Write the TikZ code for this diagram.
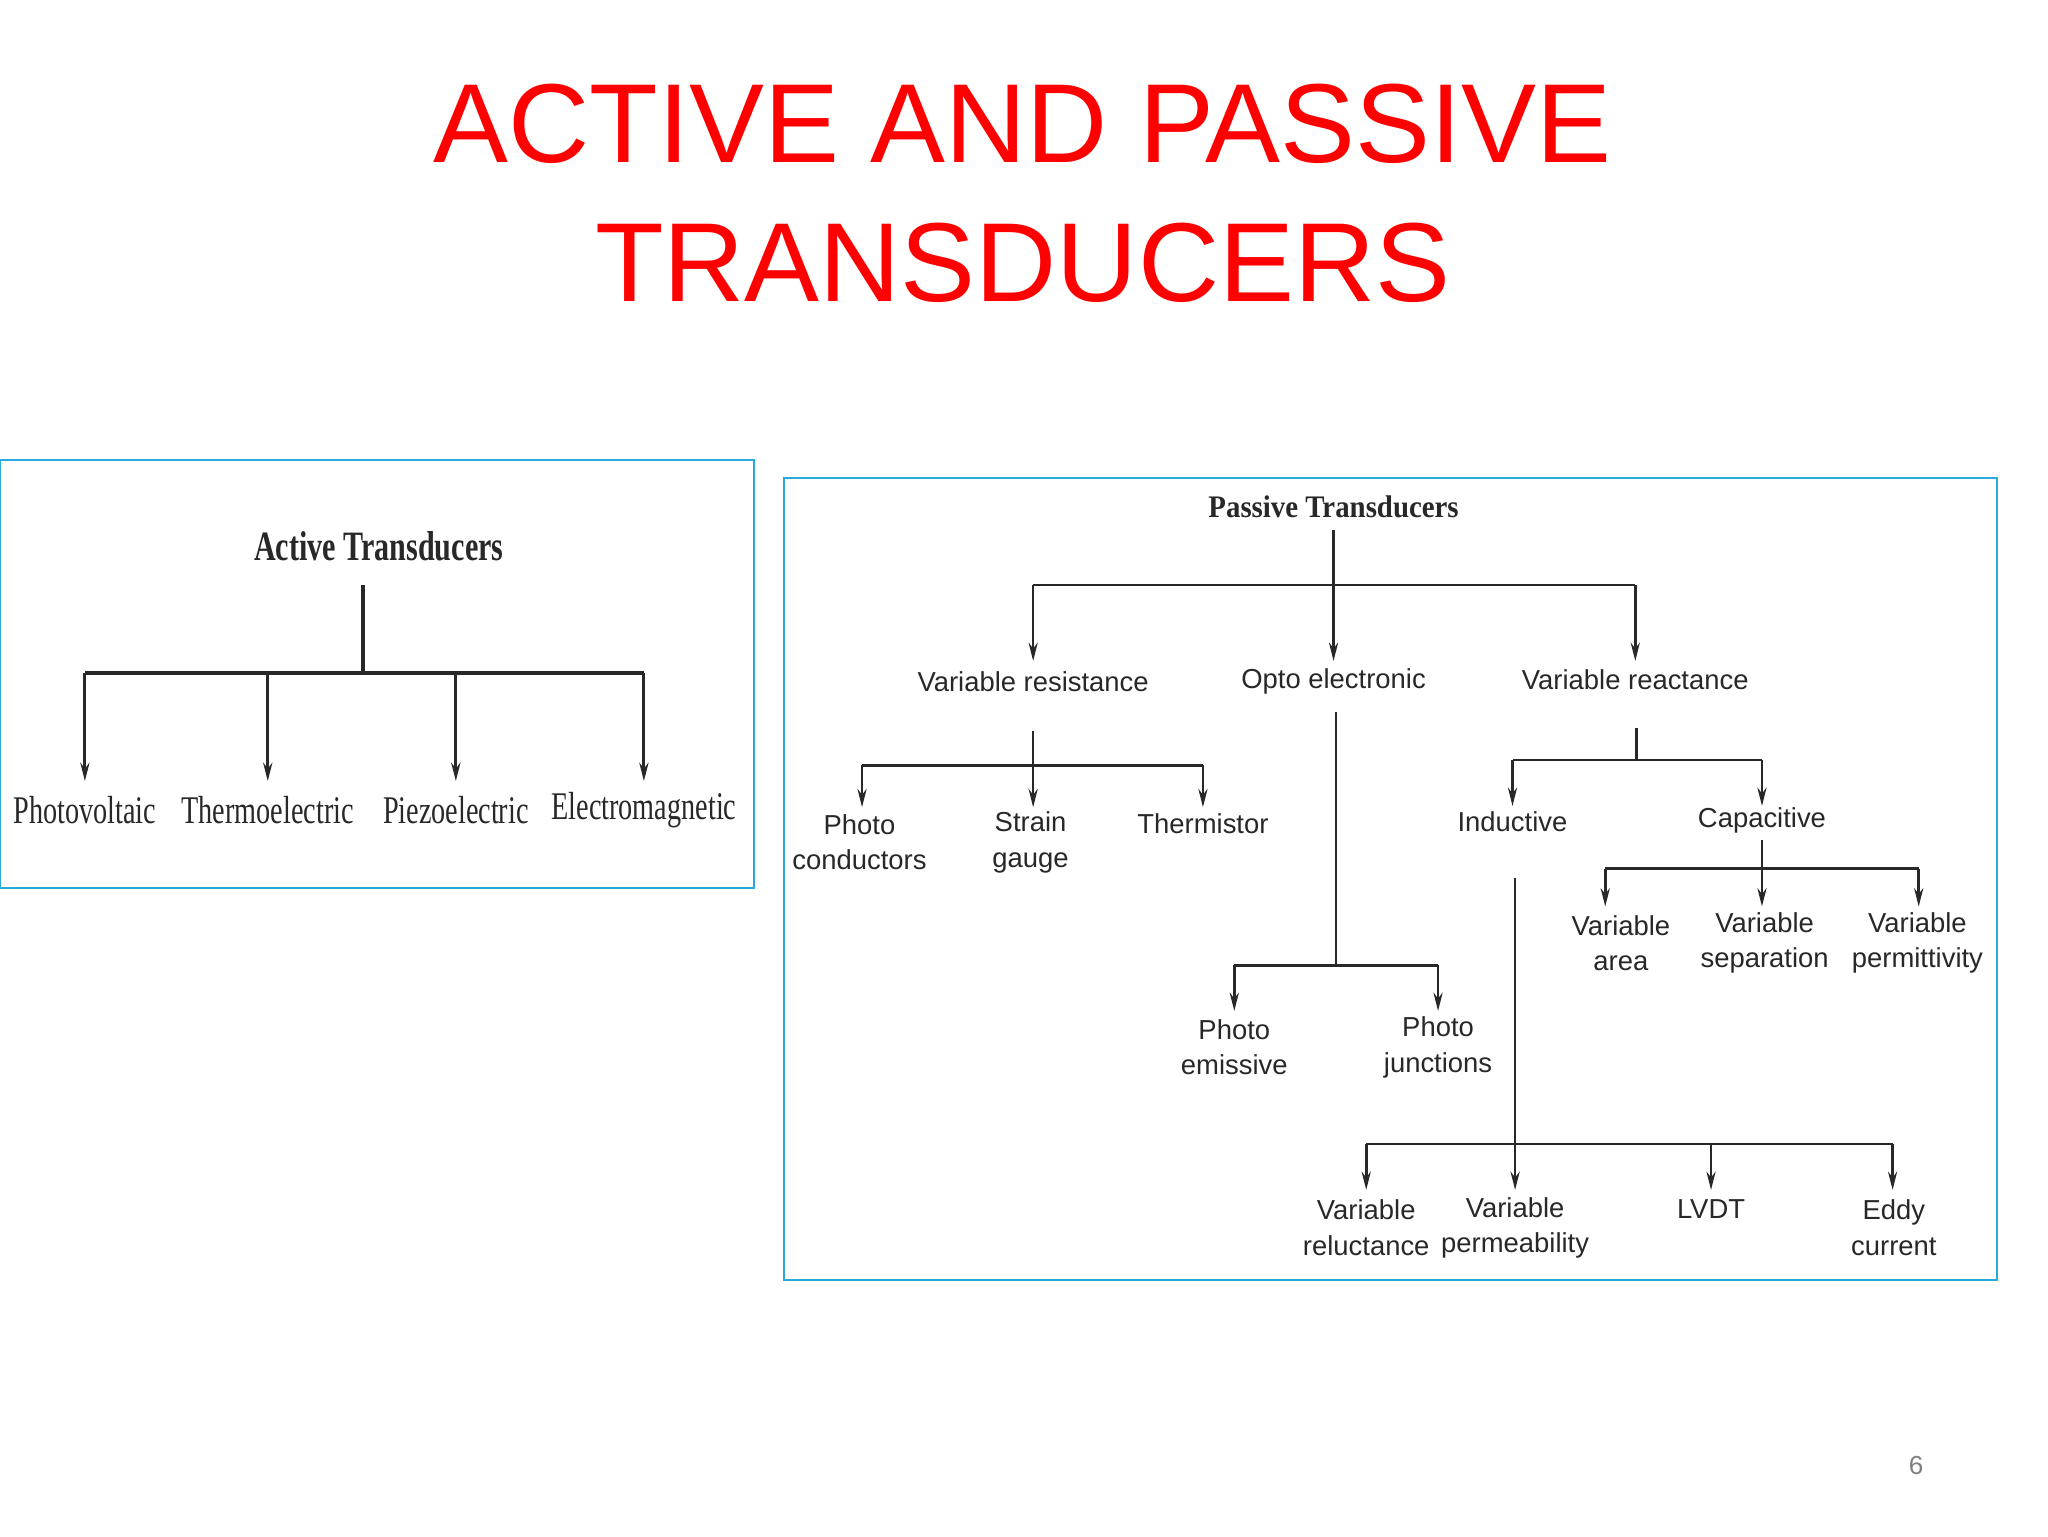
\documentclass[tikz,border=0pt]{standalone}
\usepackage{fontspec}
\setmainfont{Liberation Sans}
\newfontfamily\serifb{Liberation Serif}
\usetikzlibrary{arrows.meta}
\definecolor{frame}{RGB}{40,170,220}
\definecolor{ink}{RGB}{40,40,40}
\begin{document}
\begin{tikzpicture}[x=1pt,y=-1pt,
  lbl/.style={font=\fontsize{21}{27}\selectfont,text=ink,align=center,inner sep=0pt},
  albl/.style={font=\serifb\fontsize{30}{34}\selectfont,text=ink,xscale=0.72,inner sep=0pt},
  ln/.style={draw=ink,line width=2pt},
  arr/.style={ln,-{Stealth[length=14pt,width=7pt]}},
  box/.style={draw=frame,line width=1.5pt}]
\useasboundingbox (0,0) rectangle (1568,1176);
\fill[white] (0,0) rectangle (1568,1176);
\node[text=red,font=\fontsize{86}{106}\selectfont,align=center] (title) at (783,148) {ACTIVE AND PASSIVE\\TRANSDUCERS};
\node[text=gray,font=\fontsize{20}{24}\selectfont] (pg) at (1467,1122) {6};
% Active
\draw[box] (0,352) rectangle (577,680);
\node[albl,font=\serifb\bfseries\fontsize{32}{36}\selectfont] (at) at (290,418) {Active Transducers};
\coordinate (a0) at (278,448); \coordinate (a1) at (278,515);
\coordinate (ab1) at (65,515); \coordinate (ab4) at (493,515);
\draw[ln,line width=2.6pt] (a0) -- (a1); \draw[ln,line width=3pt] (ab1) -- (ab4);
\foreach \x/\t/\n in {65/Photovoltaic/p1,205/Thermoelectric/p2,349/Piezoelectric/p3,493/Electromagnetic/p4}{
  \node[albl] (\n) at (\x,620) {\t};
  \coordinate (\n t) at (\x,515);
  \draw[arr,line width=2.4pt] (\n t) -- (\x,598);
}
% Passive
\draw[box] (600,366) rectangle (1529,980);
\node[font=\serifb\bfseries\fontsize{24}{28}\selectfont,text=ink,xscale=0.92] (pt) at (1021,388) {Passive Transducers};
\node[lbl] (vr) at (791,522) {Variable resistance};
\node[lbl] (oe) at (1021,522) {Opto electronic};
\node[lbl] (vx) at (1252,520) {Variable reactance};
\draw[arr] (1021,406) -- (1021,506);
\draw[ln] (791,448) -- (1252,448);
\draw[arr] (791,448) -- (791,506);
\draw[arr] (1252,448) -- (1252,506);
% var resistance
\node[lbl] (pc) at (658,645) {Photo\\conductors};
\node[lbl] (sg) at (789,645) {Strain\\gauge};
\node[lbl] (th) at (921,631) {Thermistor};
\draw[arr] (791,560) -- (791,618);
\draw[ln] (660,586) -- (921,586);
\draw[arr] (660,586) -- (660,618);
\draw[arr] (921,586) -- (921,618);
% opto
\node[lbl] (pe) at (945,802) {Photo\\emissive};
\node[lbl] (pj) at (1101,802) {Photo\\junctions};
\draw[ln] (1023,545) -- (1023,739);
\draw[ln] (945,739) -- (1101,739);
\draw[arr] (945,739) -- (945,774);
\draw[arr] (1101,739) -- (1101,774);
% reactance
\node[lbl] (ind) at (1158,629) {Inductive};
\node[lbl] (cap) at (1349,628) {Capacitive};
\draw[ln] (1253,557) -- (1253,582);
\draw[ln] (1158,582) -- (1349,582);
\draw[arr] (1158,582) -- (1158,617);
\draw[arr] (1349,582) -- (1349,617);
% capacitive
\node[lbl] (va) at (1241,722) {Variable\\area};
\node[lbl] (vs) at (1351,722) {Variable\\separation};
\node[lbl] (vp) at (1468,722) {Variable\\permittivity};
\draw[arr] (1349,643) -- (1349,694);
\draw[ln] (1229,665) -- (1469,665);
\draw[arr] (1229,665) -- (1229,694);
\draw[arr] (1469,665) -- (1469,694);
% inductive
\node[lbl] (vrl) at (1046,940) {Variable\\reluctance};
\node[lbl] (vpm) at (1160,940) {Variable\\permeability};
\node[lbl] (lv) at (1310,926) {LVDT};
\node[lbl] (ec) at (1450,940) {Eddy\\current};
\draw[arr] (1160,672) -- (1160,911);
\draw[ln] (1046,876) -- (1449,876);
\draw[arr] (1046,876) -- (1046,911);
\draw[arr] (1310,876) -- (1310,911);
\draw[arr] (1449,876) -- (1449,911);
\end{tikzpicture}
\end{document}
